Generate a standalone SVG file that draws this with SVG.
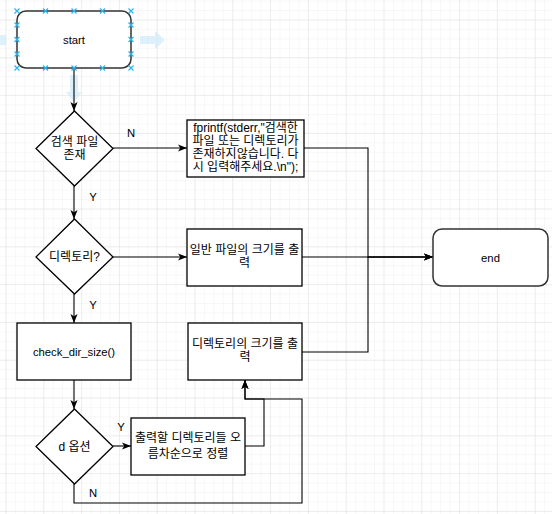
<svg xmlns="http://www.w3.org/2000/svg" width="552" height="514" viewBox="0 0 552 514">
<defs>
<pattern id="minor" x="5.5" y="19.5" width="9.45" height="9.45" patternUnits="userSpaceOnUse">
<path d="M0,0 H9.45 M0,0 V9.45" fill="none" stroke="#f0f0f0" stroke-width="1"/>
</pattern>
<pattern id="major" x="5.5" y="19.5" width="37.8" height="37.8" patternUnits="userSpaceOnUse">
<path d="M0,0 H37.8 M0,0 V37.8" fill="none" stroke="#e2e2e2" stroke-width="1"/>
</pattern>
<marker id="arr" viewBox="0 0 10 8" refX="10" refY="4" markerWidth="9" markerHeight="7.2" orient="auto" markerUnits="userSpaceOnUse">
<path d="M0,0 L10,4 L0,8 L2.5,4 Z" fill="#000"/>
</marker>
<g id="xm"><path d="M-2.5,-2.5 L2.5,2.5 M-2.5,2.5 L2.5,-2.5" stroke="#29b6f2" stroke-width="1.2"/></g>
</defs>
<style>
.sh{fill:#fff;stroke:#000;stroke-width:1.3}
.rr{fill:#fff;stroke:#333;stroke-width:1.5}
.ln{fill:none;stroke:#000;stroke-width:1.1}
.t{font-family:"Liberation Sans","Noto Sans CJK KR",sans-serif;font-size:11.3px;fill:#000;text-anchor:middle}
.k{font-size:12px}
.hint{fill:#bfe6fa;opacity:0.55}
</style>
<rect width="552" height="514" fill="#fff"/>
<rect width="552" height="514" fill="url(#minor)"/>
<rect width="552" height="514" fill="url(#major)"/>

<g id="ui-hints">
<path class="hint" d="M0,35 H6 V45 H0 Z"/>
<path class="hint" d="M140,36 H155 V31 L165,40 L155,49 V44 H140 Z"/>
<path class="hint" d="M70,75 V92 H66 L74,102 L82,92 H78 V75 Z"/>
</g>

<g id="connectors">
<path class="ln" d="M74,68 V111" marker-end="url(#arr)"/>
<path class="ln" d="M113,148 H187" marker-end="url(#arr)"/>
<path class="ln" d="M74,186 V219" marker-end="url(#arr)"/>
<path class="ln" d="M304,148 H368 V257 H433" marker-end="url(#arr)"/>
<path class="ln" d="M113,257 H187" marker-end="url(#arr)"/>
<path class="ln" d="M302,257 H433" marker-end="url(#arr)"/>
<path class="ln" d="M74,294 V323" marker-end="url(#arr)"/>
<path class="ln" d="M74,380 V409" marker-end="url(#arr)"/>
<path class="ln" d="M113,446 H131" marker-end="url(#arr)"/>
<path class="ln" d="M245,446 H264 V399 H245 V380" marker-end="url(#arr)"/>
<path class="ln" d="M74,484 V503 H302 V399 H245 V380" marker-end="url(#arr)"/>
<path class="ln" d="M302,352 H368 V257 H433" marker-end="url(#arr)"/>
<text class="t" x="131" y="137">N</text>
<text class="t" x="93" y="201">Y</text>
<text class="t" x="93" y="309">Y</text>
<text class="t" x="121" y="431">Y</text>
<text class="t" x="93" y="497">N</text>
</g>

<g id="start">
<rect class="rr" x="17" y="11" width="114" height="57" rx="9"/>
<text class="t" x="74" y="44">start</text>
<use href="#xm" x="17" y="11"/><use href="#xm" x="45.5" y="11"/><use href="#xm" x="74" y="11"/><use href="#xm" x="102.5" y="11"/><use href="#xm" x="131" y="11"/>
<use href="#xm" x="17" y="68"/><use href="#xm" x="45.5" y="68"/><use href="#xm" x="74" y="68"/><use href="#xm" x="102.5" y="68"/><use href="#xm" x="131" y="68"/>
<use href="#xm" x="17" y="25"/><use href="#xm" x="17" y="39.5"/><use href="#xm" x="17" y="54"/>
<use href="#xm" x="131" y="25"/><use href="#xm" x="131" y="39.5"/><use href="#xm" x="131" y="54"/>
</g>

<g id="exists">
<path class="sh" d="M74.5,111 L113,148.5 L74.5,186 L36,148.5 Z"/>
<text class="t k" x="74.5" y="145.5">검색 파일</text>
<text class="t k" x="74.5" y="159">존재</text>
</g>

<g id="error">
<rect class="sh" x="187" y="120" width="117" height="57"/>
<text class="t k" x="245.5" y="131.5">fprintf(stderr,"검색한</text>
<text class="t k" x="245.5" y="144.5">파일 또는 디렉토리가</text>
<text class="t k" x="245.5" y="157.5">존재하지않습니다. 다</text>
<text class="t k" x="245.5" y="170.5">시 입력해주세요.\n");</text>
</g>

<g id="isdir">
<path class="sh" d="M74.5,219 L113,257 L74.5,294 L36,257 Z"/>
<text class="t k" x="74.5" y="261">디렉토리?</text>
</g>

<g id="filesize">
<rect class="sh" x="187" y="229" width="115" height="57"/>
<text class="t k" x="244.5" y="254">일반 파일의 크기를 출</text>
<text class="t k" x="244.5" y="267">력</text>
</g>

<g id="end">
<rect class="rr" x="433" y="229" width="115" height="57" rx="9"/>
<text class="t" x="490.5" y="262">end</text>
</g>

<g id="check">
<rect class="sh" x="17" y="323" width="114" height="57"/>
<text class="t" x="74" y="356">check_dir_size()</text>
</g>

<g id="dirsize">
<rect class="sh" x="188" y="323" width="114" height="57"/>
<text class="t k" x="245" y="348">디렉토리의 크기를 출</text>
<text class="t k" x="245" y="361">력</text>
</g>

<g id="dopt">
<path class="sh" d="M74.5,409 L113,446.5 L74.5,484 L36,446.5 Z"/>
<text class="t k" x="74.5" y="450.5">d 옵션</text>
</g>

<g id="sort">
<rect class="sh" x="131" y="418" width="114" height="57"/>
<text class="t k" x="188" y="442">출력할 디렉토리들 오</text>
<text class="t k" x="188" y="458">름차순으로 정렬</text>
</g>
</svg>
